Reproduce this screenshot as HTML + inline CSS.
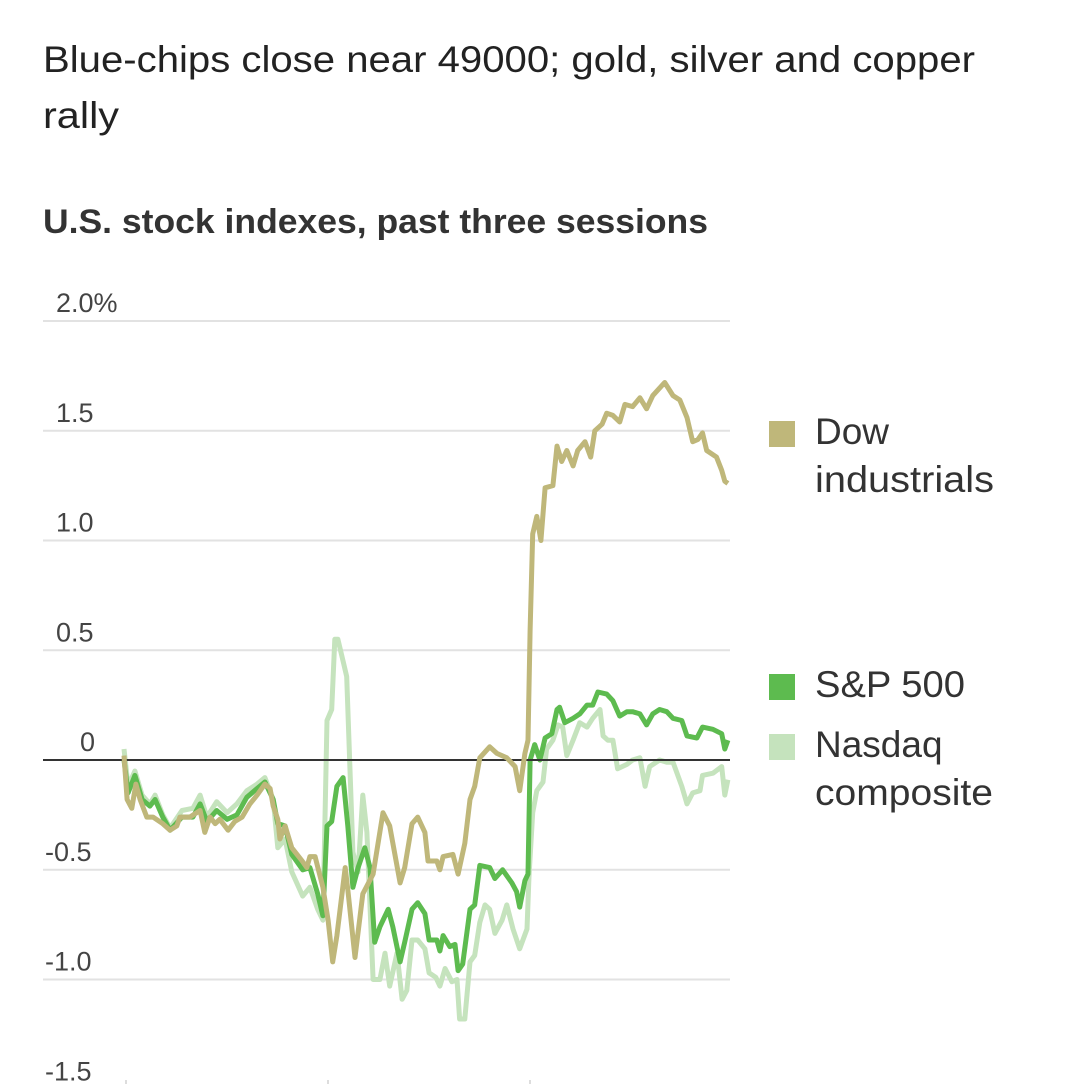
<!DOCTYPE html>
<html><head><meta charset="utf-8"><style>
html,body{margin:0;padding:0;background:#fff;}
body{width:1080px;height:1084px;overflow:hidden;}
svg text{font-family:"Liberation Sans",sans-serif;}
.tick{font-family:"Liberation Sans Narrow","Liberation Sans",sans-serif;font-size:27px;fill:#444;}
</style></head><body>
<svg id="chart" width="1080" height="1084" viewBox="0 0 1080 1084">
<text x="43" y="72" font-size="37" fill="#222" textLength="932" lengthAdjust="spacingAndGlyphs">Blue-chips close near 49000; gold, silver and copper</text>
<text x="43" y="128" font-size="37" fill="#222" textLength="76" lengthAdjust="spacingAndGlyphs">rally</text>
<text x="43" y="233" font-size="34" font-weight="bold" fill="#333" textLength="665" lengthAdjust="spacingAndGlyphs">U.S. stock indexes, past three sessions</text>
<g id="grid"></g>
<g id="lines"></g>
<g>
<rect x="769" y="421" width="26" height="26" fill="#bfb77a"/>
<text x="815" y="444" font-size="37" fill="#333">Dow</text>
<text x="815" y="492" font-size="37" fill="#333" textLength="179" lengthAdjust="spacingAndGlyphs">industrials</text>
<rect x="769" y="674" width="26" height="26" fill="#5dbb4f"/>
<text x="815" y="697" font-size="37" fill="#333" textLength="150" lengthAdjust="spacingAndGlyphs">S&amp;P 500</text>
<rect x="769" y="734" width="26" height="26" fill="#c5e3bd"/>
<text x="815" y="757" font-size="37" fill="#333">Nasdaq</text>
<text x="815" y="805" font-size="37" fill="#333" textLength="178" lengthAdjust="spacingAndGlyphs">composite</text>
</g>
</svg>
<script>
const yTicks = [2.0, 1.5, 1.0, 0.5, 0, -0.5, -1.0, -1.5];
const yTickLabels = ["2.0%", "1.5", "1.0", "0.5", "0", "-0.5", "-1.0", "-1.5"];
const sessionStarts = [0, 390, 780];
const dowMin = [0,6,15,23,31,44,56,75,89,102,108,127,147,156,166,176,185,201,214,228,243,257,272,282,288,297,301,311,324,334,344,353,359,369,384,394,403,411,427,432,446,461,481,500,513,533,542,556,567,581,587,604,610,616,635,645,658,668,677,687,706,720,739,755,764,774,780,784,789,797,805,813,828,836,845,855,867,876,890,901,909,923,932,944,957,967,982,996,1009,1021,1044,1060,1073,1087,1098,1108,1117,1125,1144,1154,1160,1166];
const dowVal = [.02,-.18,-.22,-.11,-.18,-.26,-.26,-.29,-.32,-.30,-.26,-.26,-.23,-.33,-.26,-.29,-.27,-.32,-.28,-.26,-.20,-.16,-.11,-.13,-.21,-.27,-.36,-.30,-.40,-.43,-.46,-.49,-.44,-.44,-.58,-.73,-.92,-.80,-.49,-.59,-.90,-.61,-.52,-.24,-.30,-.56,-.49,-.29,-.26,-.33,-.46,-.46,-.50,-.44,-.43,-.52,-.38,-.18,-.12,.01,.06,.03,.01,-.03,-.14,.03,.09,.59,1.03,1.11,1.00,1.24,1.25,1.43,1.36,1.41,1.34,1.41,1.45,1.38,1.50,1.53,1.58,1.57,1.54,1.62,1.61,1.65,1.60,1.66,1.72,1.66,1.64,1.56,1.45,1.46,1.49,1.41,1.38,1.32,1.27,1.26];
const spMin = [0,8,21,35,50,60,75,89,112,133,147,160,179,199,218,237,257,272,288,297,311,324,345,359,374,384,392,401,411,423,432,442,452,465,475,484,494,510,519,533,542,556,567,581,589,604,610,616,629,639,645,654,668,677,687,706,716,731,749,758,764,774,780,784,793,803,813,826,836,841,851,867,880,894,905,915,932,944,957,971,982,996,1009,1021,1034,1048,1060,1077,1087,1106,1117,1137,1154,1160,1166];
const spVal = [0,-.15,-.07,-.18,-.21,-.18,-.26,-.32,-.26,-.26,-.20,-.28,-.23,-.27,-.25,-.17,-.13,-.10,-.18,-.29,-.30,-.43,-.50,-.49,-.61,-.71,-.30,-.28,-.12,-.08,-.30,-.58,-.49,-.40,-.49,-.83,-.76,-.68,-.76,-.92,-.83,-.68,-.65,-.70,-.82,-.82,-.87,-.80,-.85,-.84,-.96,-.93,-.68,-.66,-.48,-.49,-.54,-.50,-.56,-.60,-.67,-.55,-.52,0,.07,0,.10,.12,.23,.24,.17,.19,.21,.25,.25,.31,.30,.27,.20,.22,.22,.21,.16,.21,.23,.22,.19,.18,.11,.10,.15,.14,.12,.05,.09];
const nqMin = [0,8,21,35,50,60,75,89,112,133,147,160,179,199,218,237,257,272,288,297,311,324,345,359,374,384,392,401,407,413,423,430,442,452,461,469,481,494,504,513,527,537,546,556,567,581,589,602,610,620,633,643,648,658,668,677,687,697,706,716,730,739,751,764,778,782,789,797,809,816,828,838,847,855,867,880,894,905,919,925,934,944,953,971,982,996,1006,1015,1034,1048,1060,1077,1087,1098,1112,1117,1137,1154,1160,1166];
const nqVal = [.05,-.12,-.05,-.16,-.20,-.16,-.25,-.31,-.23,-.22,-.16,-.26,-.19,-.24,-.20,-.14,-.11,-.08,-.18,-.40,-.36,-.51,-.62,-.58,-.68,-.73,.18,.23,.55,.55,.45,.38,-.42,-.51,-.16,-.33,-1.00,-1.00,-.88,-1.03,-.88,-1.09,-1.05,-.82,-.82,-.86,-.97,-.99,-1.03,-.95,-1.01,-1.00,-1.18,-1.18,-.92,-.89,-.74,-.66,-.68,-.79,-.73,-.66,-.77,-.86,-.77,-.53,-.24,-.14,-.10,.05,.09,.16,.15,.02,.09,.17,.15,.19,.23,.11,.09,.09,-.04,-.02,0,.01,-.12,-.03,0,-.01,-.01,-.12,-.20,-.15,-.14,-.07,-.06,-.03,-.16,-.09];

const NS = "http://www.w3.org/2000/svg";
const X0 = 124, X1 = 730, TOTAL = 1170;
const xs = m => X0 + m / TOTAL * (X1 - X0);
const ys = v => 760 - v * 219.5;
const grid = document.getElementById('grid');
const lines = document.getElementById('lines');
yTicks.forEach((t, i) => {
  if (t !== 0) {
    const l = document.createElementNS(NS, 'line');
    l.setAttribute('x1', 43); l.setAttribute('x2', 730);
    l.setAttribute('y1', ys(t)); l.setAttribute('y2', ys(t));
    l.setAttribute('stroke', '#e2e2e2'); l.setAttribute('stroke-width', 2);
    
    
    grid.appendChild(l);
  }
  const tx = document.createElementNS(NS, 'text');
  const lab = yTickLabels[i];
  tx.setAttribute('x', lab === '0' ? 80 : (lab.startsWith('-') ? 45 : 56));
  tx.setAttribute('y', ys(t) - 9);
  tx.setAttribute('class', 'tick');
  tx.textContent = lab;
  
  
  grid.appendChild(tx);
});
sessionStarts.forEach(s => {
  const l = document.createElementNS(NS, 'line');
  l.setAttribute('x1', xs(s) + 2); l.setAttribute('x2', xs(s) + 2);
  l.setAttribute('y1', 1080); l.setAttribute('y2', 1084);
  l.setAttribute('stroke', '#bbb'); l.setAttribute('stroke-width', 1);
  
  
  grid.appendChild(l);
});
function drawLine(mins, vals, color, name) {
  const p = document.createElementNS(NS, 'path');
  p.setAttribute('d', mins.map((m, i) => (i ? 'L' : 'M') + xs(m).toFixed(1) + ',' + ys(vals[i]).toFixed(1)).join(''));
  p.setAttribute('fill', 'none'); p.setAttribute('stroke', color);
  p.setAttribute('stroke-width', 5); p.setAttribute('stroke-linejoin', 'round');
  
  
  lines.appendChild(p);
}
drawLine(nqMin, nqVal, '#c5e3bd', 'nasdaq-line');
drawLine(spMin, spVal, '#5dbb4f', 'sp500-line');
const z = document.createElementNS(NS, 'line');
z.setAttribute('x1', 43); z.setAttribute('x2', 730);
z.setAttribute('y1', ys(0)); z.setAttribute('y2', ys(0));
z.setAttribute('stroke', '#333'); z.setAttribute('stroke-width', 2);


lines.appendChild(z);
drawLine(dowMin, dowVal, '#bfb77a', 'dow-line');
</script>
</body></html>
